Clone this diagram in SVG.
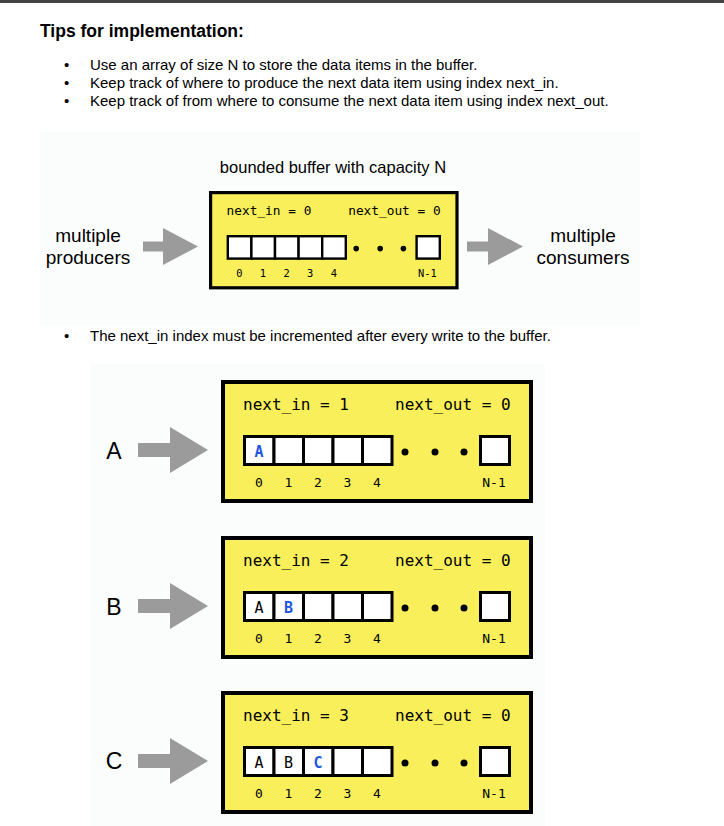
<svg xmlns="http://www.w3.org/2000/svg" xmlns:xlink="http://www.w3.org/1999/xlink" width="724" height="826" viewBox="0 0 724 826">
<defs>
<style>
.sans{font-family:"Liberation Sans",Arial,sans-serif;fill:#000}
.mono{font-family:"DejaVu Sans Mono","Liberation Mono",monospace;fill:#000}
.bx{fill:#f8ef5a;stroke:#000;stroke-width:4}
.cell{fill:#fff;stroke:#000;stroke-width:3}
.arrow{fill:#9b9b9b}
.idx{font-size:13px;text-anchor:middle}
.var{font-size:16px}
.item{font-size:15px;text-anchor:middle}
.new{fill:#2255dd;font-weight:bold}
.bg{fill:#fbfcfc}
</style>
<g id="buffer">
<rect class="bx" x="2" y="2" width="308" height="119"/>
<rect class="cell" x="23.5" y="56.5" width="29.5" height="28"/>
<rect class="cell" x="53" y="56.5" width="29.5" height="28"/>
<rect class="cell" x="82.5" y="56.5" width="29.5" height="28"/>
<rect class="cell" x="112" y="56.5" width="29.5" height="28"/>
<rect class="cell" x="141.5" y="56.5" width="29.5" height="28"/>
<rect class="cell" x="259.5" y="56.5" width="29" height="28"/>
<circle cx="184" cy="72" r="3.5"/>
<circle cx="214" cy="72" r="3.5"/>
<circle cx="243" cy="72" r="3.5"/>
<g class="mono idx">
<text x="38" y="107">0</text>
<text x="67.5" y="107">1</text>
<text x="97" y="107">2</text>
<text x="126.5" y="107">3</text>
<text x="156" y="107">4</text>
<text x="273" y="107">N-1</text>
</g>
</g>
<path id="bigArrow" d="M0,-7 H32 V-23 L70,0 L32,23 V7 H0 Z"/>
</defs>

<rect x="0" y="0" width="724" height="826" fill="#fff"/>
<rect x="0" y="0" width="724" height="3" fill="#444"/>
<rect class="bg" x="40" y="132" width="600" height="194"/>
<rect class="bg" x="90" y="364" width="455" height="462"/>

<g id="tips">
<text class="sans" x="40" y="37" font-size="17.5" font-weight="bold">Tips for implementation:</text>
<g class="sans" font-size="15">
<text x="64" y="70">•</text><text x="90" y="70">Use an array of size N to store the data items in the buffer.</text>
<text x="64" y="88">•</text><text x="90" y="88">Keep track of where to produce the next data item using index next_in.</text>
<text x="64" y="106">•</text><text x="90" y="106">Keep track of from where to consume the next data item using index next_out.</text>
<text x="64" y="341">•</text><text x="90" y="341">The next_in index must be incremented after every write to the buffer.</text>
</g>
</g>

<g id="producers">
<text class="sans" x="88" y="242" font-size="19" text-anchor="middle">multiple</text>
<text class="sans" x="88" y="264" font-size="19" text-anchor="middle">producers</text>
</g>
<g id="consumers">
<text class="sans" x="583" y="242" font-size="19" text-anchor="middle">multiple</text>
<text class="sans" x="583" y="264" font-size="19" text-anchor="middle">consumers</text>
</g>

<g id="top-buffer">
<text class="sans" x="333" y="173" font-size="16.5" text-anchor="middle">bounded buffer with capacity N</text>
<g transform="translate(209,191) scale(0.8)">
<use xlink:href="#buffer" href="#buffer"/>
<text class="mono var" x="22" y="30">next_in = 0</text>
<text class="mono var" x="174" y="30">next_out = 0</text>
</g>
</g>

<g id="producer-A">
<text class="sans" x="114" y="459" font-size="23" text-anchor="middle">A</text>
</g>
<g id="buffer-A" transform="translate(221,380)">
<use xlink:href="#buffer" href="#buffer"/>
<text class="mono var" x="22" y="30">next_in = 1</text>
<text class="mono var" x="174" y="30">next_out = 0</text>
<text class="mono item new" x="38" y="77">A</text>
</g>

<g id="producer-B">
<text class="sans" x="114" y="615" font-size="23" text-anchor="middle">B</text>
</g>
<g id="buffer-B" transform="translate(221,536)">
<use xlink:href="#buffer" href="#buffer"/>
<text class="mono var" x="22" y="30">next_in = 2</text>
<text class="mono var" x="174" y="30">next_out = 0</text>
<text class="mono item" x="38" y="77">A</text>
<text class="mono item new" x="67.5" y="77">B</text>
</g>

<g id="producer-C">
<text class="sans" x="114" y="769" font-size="23" text-anchor="middle">C</text>
</g>
<g id="buffer-C" transform="translate(221,691)">
<use xlink:href="#buffer" href="#buffer"/>
<text class="mono var" x="22" y="30">next_in = 3</text>
<text class="mono var" x="174" y="30">next_out = 0</text>
<text class="mono item" x="38" y="77">A</text>
<text class="mono item" x="67.5" y="77">B</text>
<text class="mono item new" x="97" y="77">C</text>
</g>

<g id="connectors" class="arrow">
<path d="M143,241.5 H163 V228 L198,246.5 L163,265 V251.5 H143 Z"/>
<path d="M467,241.5 H488 V228 L523,246.5 L488,265 V251.5 H467 Z"/>
<use xlink:href="#bigArrow" href="#bigArrow" transform="translate(138,450)"/>
<use xlink:href="#bigArrow" href="#bigArrow" transform="translate(138,606)"/>
<use xlink:href="#bigArrow" href="#bigArrow" transform="translate(138,761)"/>
</g>
</svg>
